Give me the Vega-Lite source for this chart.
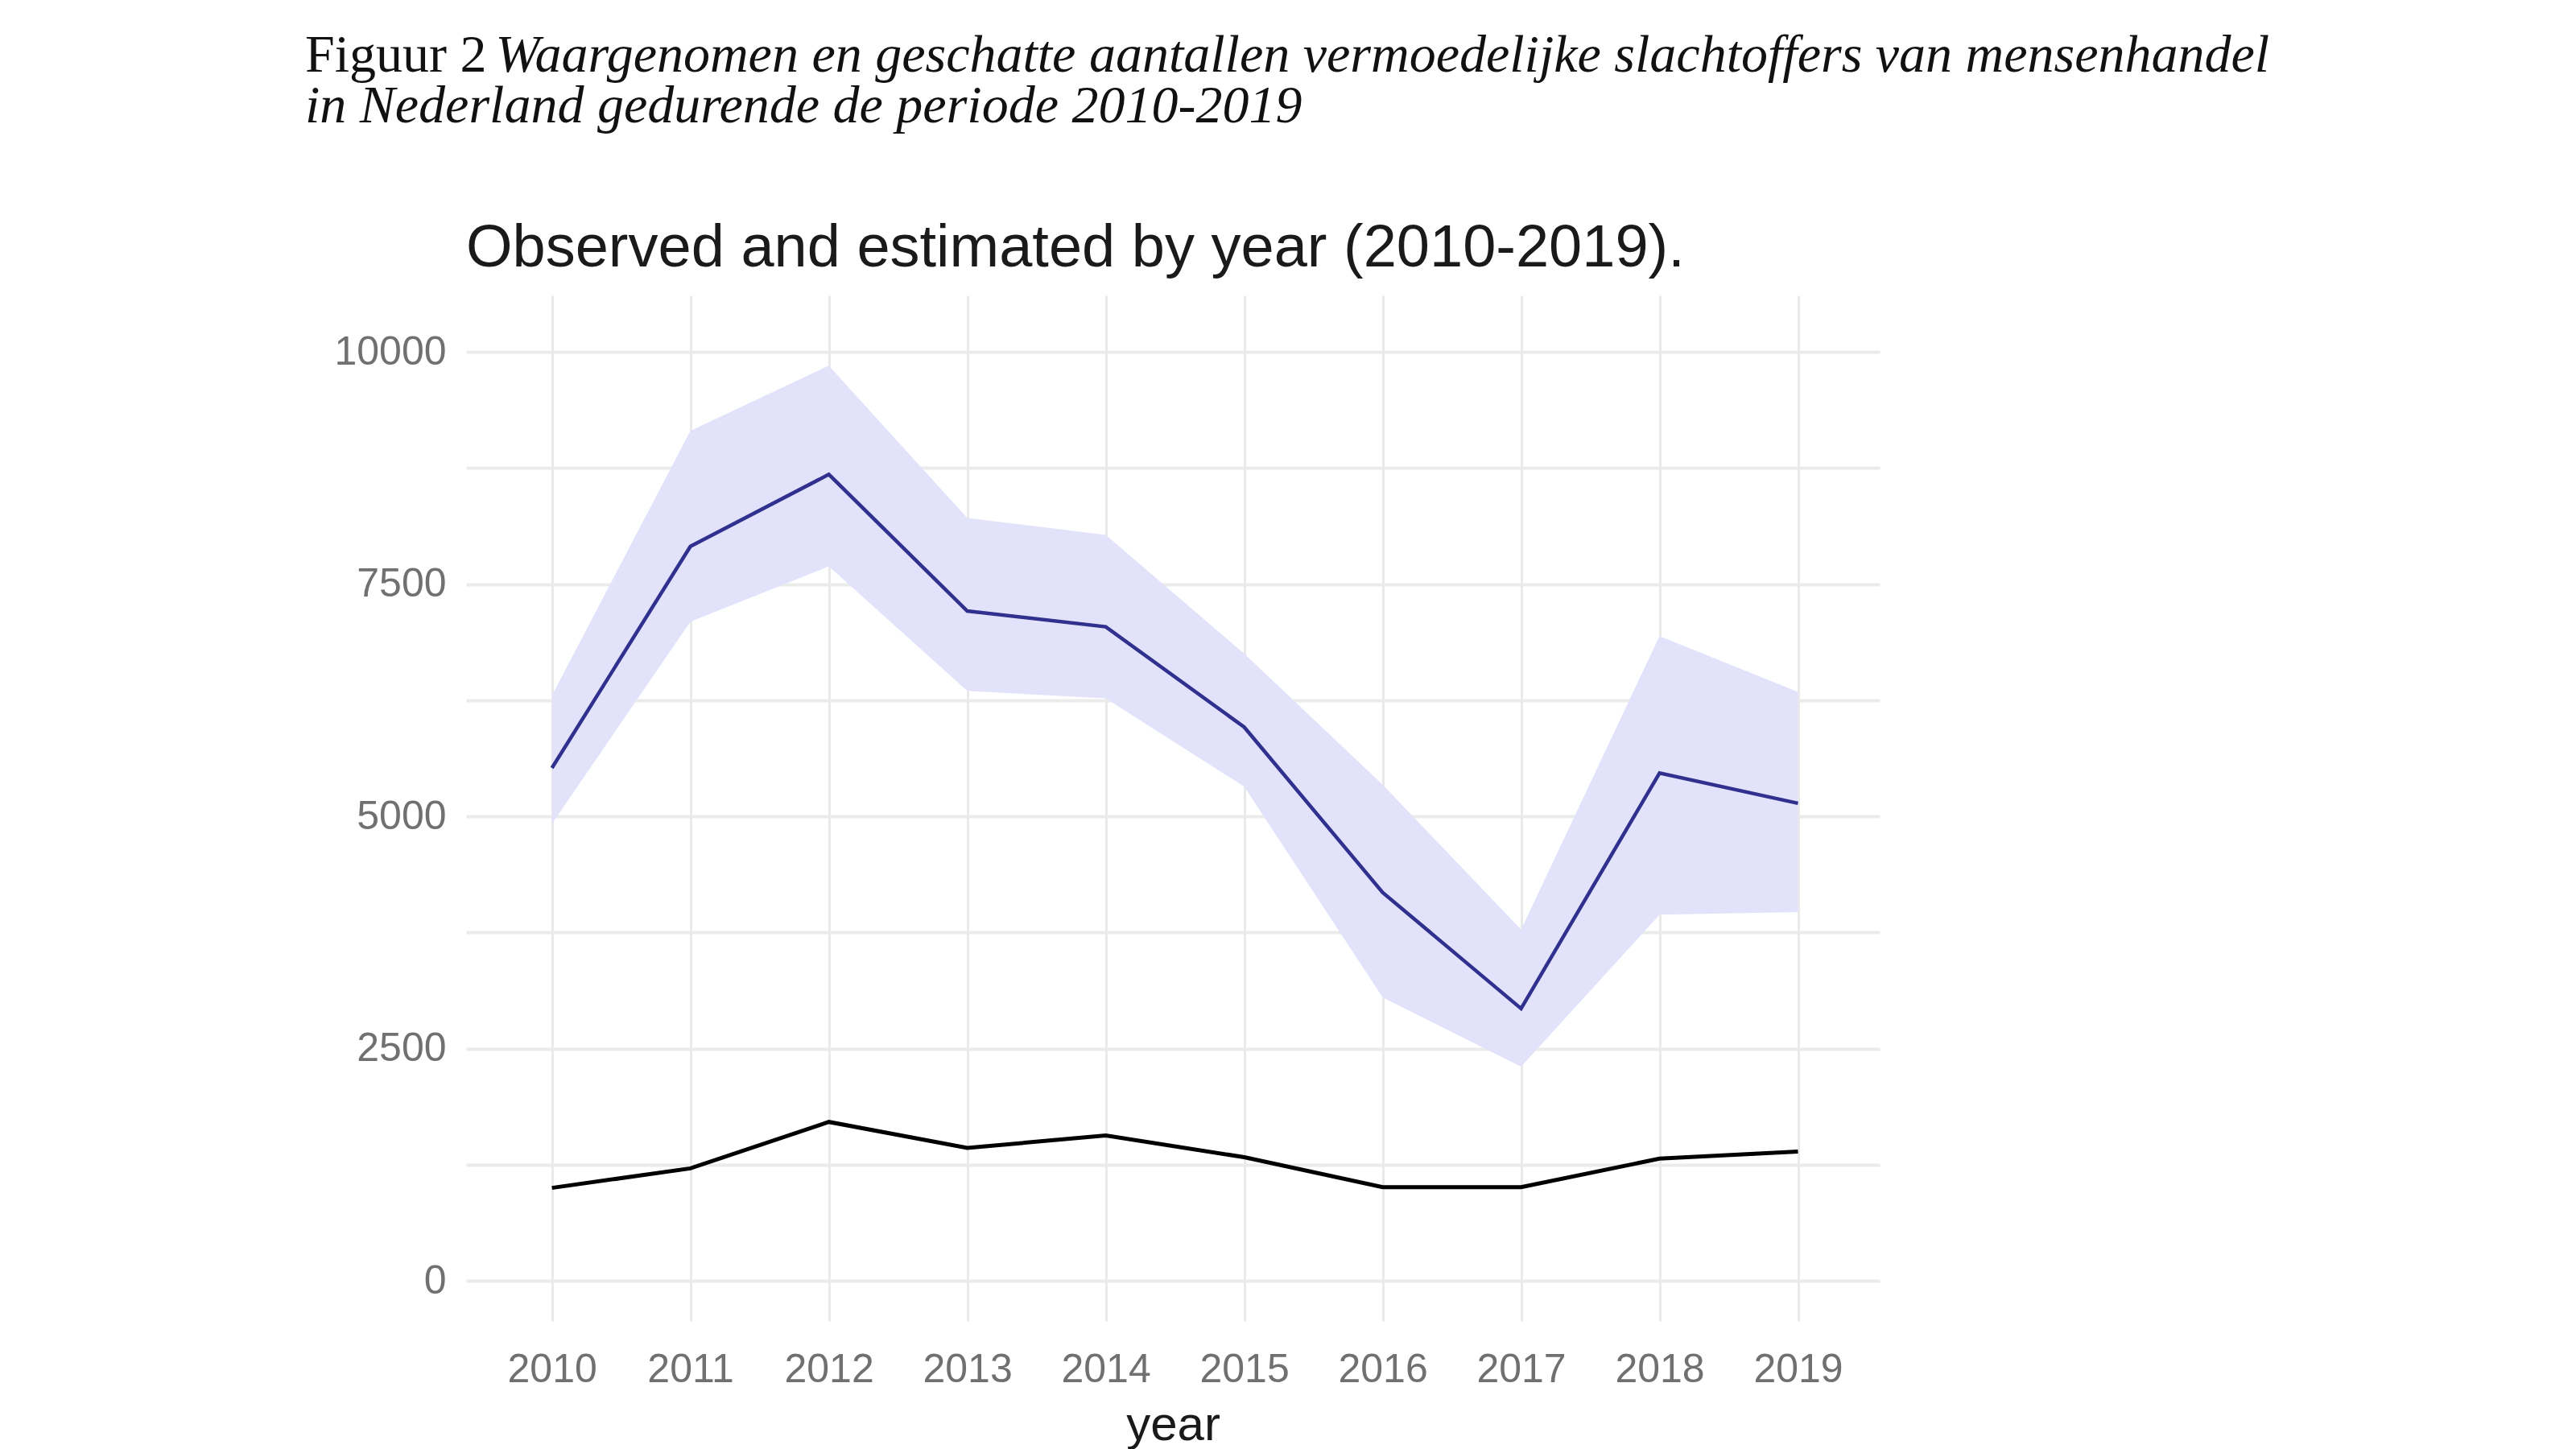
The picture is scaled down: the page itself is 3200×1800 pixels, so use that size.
{
  "$schema": "https://vega.github.io/schema/vega-lite/v6.json",
  "background": "white",
  "autosize": {"type": "pad"},
  "padding": {"left": 378, "top": 36, "right": 10, "bottom": 0},
  "title": {
    "text": "Figuur 2",
    "subtitle": [
      "\u200b\u00a0\u00a0\u00a0\u00a0\u00a0\u00a0\u00a0\u00a0\u00a0\u00a0\u00a0\u00a0\u00a0\u00a0\u200aWaargenomen en geschatte aantallen vermoedelijke slachtoffers van mensenhandel",
      "in Nederland gedurende de periode 2010-2019"
    ],
    "anchor": "start",
    "frame": "bounds",
    "dx": -36,
    "font": "Liberation Serif",
    "fontSize": 66,
    "fontWeight": "normal",
    "color": "#111111",
    "subtitleFont": "Liberation Serif",
    "subtitleFontSize": 66,
    "subtitleFontStyle": "italic",
    "subtitleColor": "#111111",
    "subtitlePadding": -66,
    "subtitleLineHeight": 63,
    "offset": 106
  },
  "data": {
    "values": [
      {"year": 2010, "observed": 1000, "estimate": 5520, "lower": 4920, "upper": 6300},
      {"year": 2011, "observed": 1210, "estimate": 7905, "lower": 7095, "upper": 9150},
      {"year": 2012, "observed": 1710, "estimate": 8680, "lower": 7690, "upper": 9850},
      {"year": 2013, "observed": 1430, "estimate": 7210, "lower": 6350, "upper": 8210},
      {"year": 2014, "observed": 1565, "estimate": 7040, "lower": 6270, "upper": 8030},
      {"year": 2015, "observed": 1330, "estimate": 5960, "lower": 5320, "upper": 6750},
      {"year": 2016, "observed": 1008, "estimate": 4180, "lower": 3050, "upper": 5340},
      {"year": 2017, "observed": 1008, "estimate": 2930, "lower": 2305, "upper": 3780},
      {"year": 2018, "observed": 1315, "estimate": 5465, "lower": 3940, "upper": 6940},
      {"year": 2019, "observed": 1392, "estimate": 5140, "lower": 3970, "upper": 6340}
    ]
  },
  "vconcat": [
    {
      "width": 1756,
      "height": 1274,
      "title": {
        "text": "Observed and estimated by year (2010-2019).",
        "anchor": "start",
        "frame": "group",
        "font": "Liberation Sans",
        "fontSize": 74,
        "fontWeight": "normal",
        "color": "#1a1a1a",
        "offset": 20
      },
      "encoding": {
        "x": {
          "field": "year",
          "type": "quantitative",
          "scale": {"domain": [2009.38, 2019.59], "nice": false, "zero": false},
          "axis": {
            "values": [2010, 2011, 2012, 2013, 2014, 2015, 2016, 2017, 2018, 2019],
            "format": "d",
            "title": "year",
            "titleFont": "Liberation Sans",
            "titleFontSize": 60,
            "titleFontWeight": "normal",
            "titleColor": "#1a1a1a",
            "titlePadding": 15,
            "labelFont": "Liberation Sans",
            "labelFontSize": 50,
            "labelColor": "#707070",
            "labelPadding": 35,
            "labelFlush": false,
            "labelOverlap": false,
            "ticks": false,
            "tickSize": 0,
            "domain": false,
            "grid": true,
            "gridColor": "#e9e9e9",
            "gridWidth": 3
          }
        }
      },
      "layer": [
        {
          "mark": {"type": "area", "color": "#e2e2fb", "opacity": 1},
          "encoding": {
            "y": {
              "field": "lower",
              "type": "quantitative",
              "scale": {"domain": [-433, 10607], "nice": false, "zero": false},
              "axis": {
                "values": [0, 1250, 2500, 3750, 5000, 6250, 7500, 8750, 10000],
                "labelExpr": "datum.value % 2500 === 0 ? datum.label : ''",
                "format": "d",
                "title": null,
                "labelFont": "Liberation Sans",
                "labelFontSize": 50,
                "labelColor": "#707070",
                "labelPadding": 25,
                "ticks": false,
                "tickSize": 0,
                "domain": false,
                "grid": true,
                "gridColor": "#ebebeb",
                "gridWidth": 4
              }
            },
            "y2": {"field": "upper"}
          }
        },
        {
          "mark": {"type": "line", "color": "#30308e", "strokeWidth": 4.5},
          "encoding": {"y": {"field": "estimate", "type": "quantitative"}}
        },
        {
          "mark": {"type": "line", "color": "#000000", "strokeWidth": 5},
          "encoding": {"y": {"field": "observed", "type": "quantitative"}}
        }
      ]
    }
  ],
  "config": {
    "view": {"stroke": null},
    "concat": {"spacing": 0}
  }
}
